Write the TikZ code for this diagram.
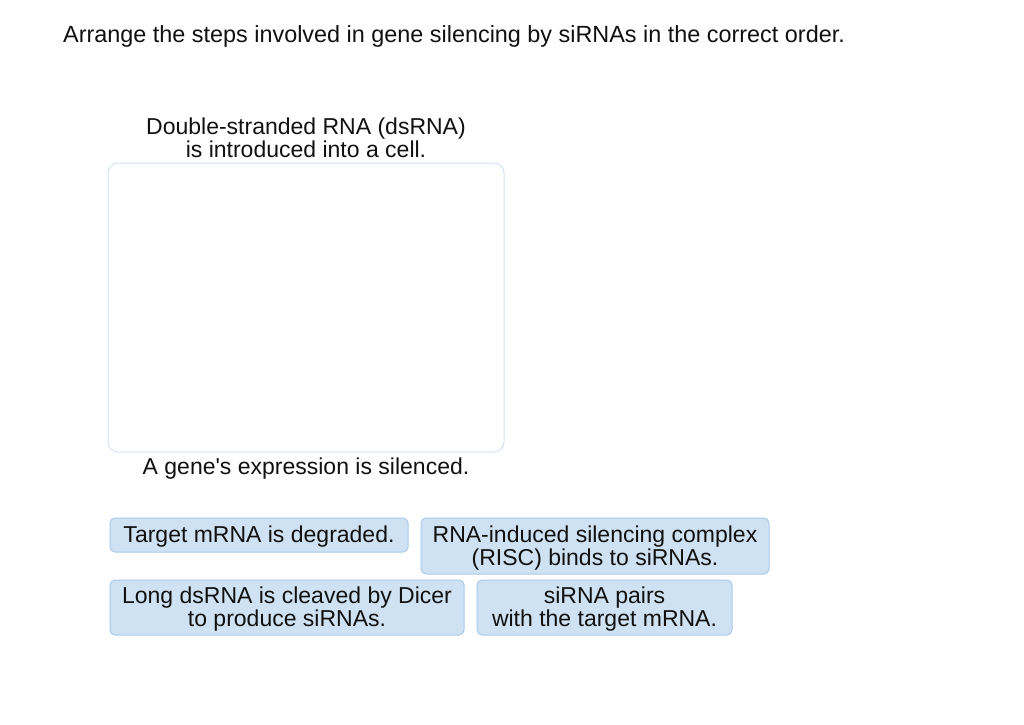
\documentclass[tikz,border=0pt]{standalone}
\usepackage{fontspec}
\setmainfont{Liberation Sans}
\definecolor{chipfill}{HTML}{CFE2F3}
\definecolor{chipdraw}{HTML}{A9CBEA}
\definecolor{boxdraw}{HTML}{D3E3F3}
\definecolor{txt}{HTML}{111111}
\begin{document}
\begin{tikzpicture}[x=1pt,y=-1pt,
  lbl/.style={font=\fontsize{23}{23}\selectfont,text=txt,align=center,inner sep=0pt},
  chip/.style={draw=chipdraw,fill=chipfill,rounded corners=5pt,line width=1pt},
  chiptext/.style={font=\fontsize{23}{23}\selectfont,text=txt,align=center,inner sep=0pt}]
\useasboundingbox (0,0) rectangle (1024,724);
\fill[white] (0,0) rectangle (1024,724);
\node[font=\fontsize{23.4}{24}\selectfont,text=txt,inner sep=0pt,anchor=base west] (title) at (63,42) {Arrange the steps involved in gene silencing by siRNAs in the correct order.};
\node[lbl] (top) at (306,138) {Double-stranded RNA (dsRNA)\\is introduced into a cell.};
\draw[boxdraw,line width=1pt,rounded corners=10pt] (108,163) rectangle (504,452);
\node[lbl] (bottom) at (306,469) {A gene\textquotesingle s expression is silenced.};
\draw[chip] (110,518) rectangle (408,552);
\node[chiptext] (c1) at (259,537) {Target mRNA is degraded.};
\draw[chip] (421,518) rectangle (769,574);
\node[chiptext] (c2) at (595,548) {RNA-induced silencing complex\\(RISC) binds to siRNAs.};
\draw[chip] (110,580) rectangle (464,635);
\node[chiptext] (c3) at (287,609) {Long dsRNA is cleaved by Dicer\\to produce siRNAs.};
\draw[chip] (477,580) rectangle (732,635);
\node[chiptext] (c4) at (604.5,609) {siRNA pairs\\with the target mRNA.};
\end{tikzpicture}
\end{document}
